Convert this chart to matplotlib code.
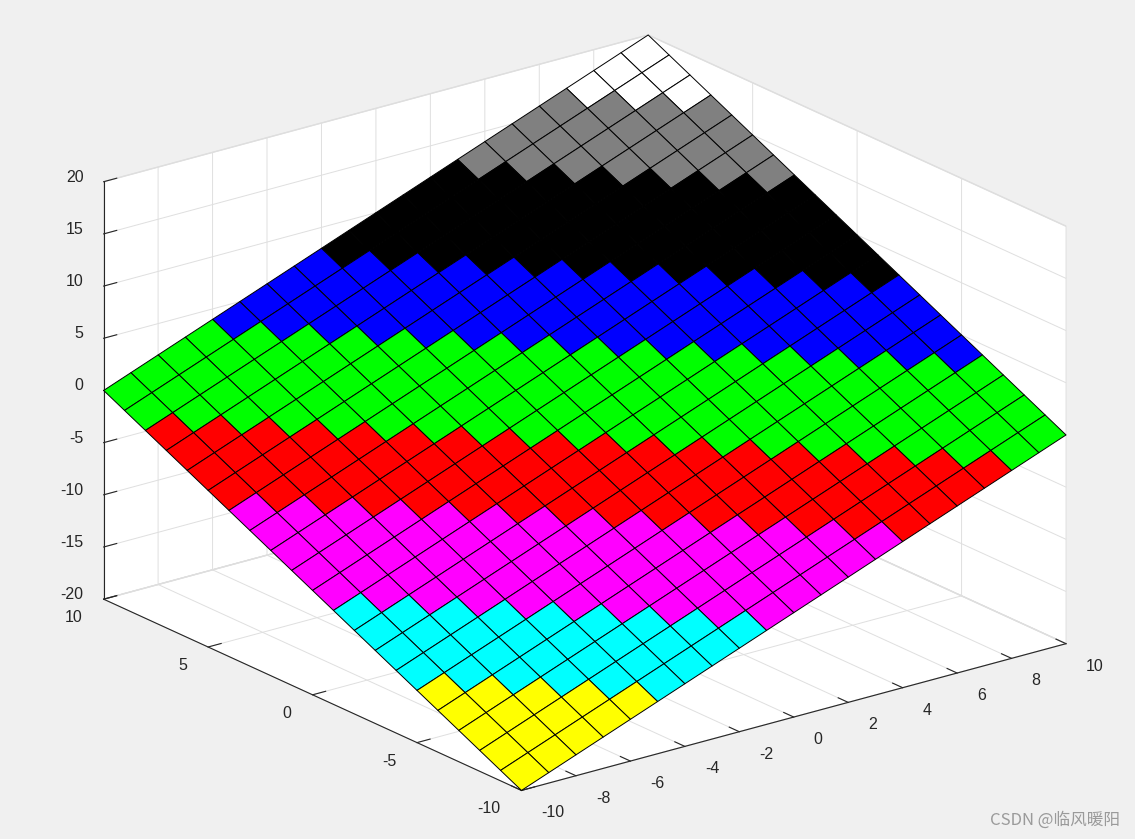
import numpy as np
import matplotlib
matplotlib.use('Agg')
import matplotlib.pyplot as plt
from matplotlib.colors import ListedColormap, Normalize
from matplotlib.ticker import NullFormatter
from mpl_toolkits.mplot3d import proj3d

plt.rcParams['axes.unicode_minus'] = False
plt.rcParams['font.family'] = ['Liberation Sans', 'DejaVu Sans']

# ---- data ----
x_values = [-10, -9, -8, -7, -6, -5, -4, -3, -2, -1, 0, 1, 2, 3, 4, 5, 6, 7, 8, 9, 10]
y_values = [-10, -9, -8, -7, -6, -5, -4, -3, -2, -1, 0, 1, 2, 3, 4, 5, 6, 7, 8, 9, 10]
band_colors = ['#FFFF00', '#00FFFF', '#FF00FF', '#FF0000', '#00FF00',
               '#0000FF', '#000000', '#808080', '#FFFFFF']
x_ticks = [-10, -8, -6, -4, -2, 0, 2, 4, 6, 8, 10]
y_ticks = [-10, -5, 0, 5, 10]
z_ticks = [-20, -15, -10, -5, 0, 5, 10, 15, 20]

X, Y = np.meshgrid(x_values, y_values)
Z = X + Y

cmap = ListedColormap(band_colors)
norm = Normalize(vmin=-20, vmax=20)
fc = cmap(norm(Z))

W, H = 1135, 839
fig = plt.figure(figsize=(W / 100, H / 100), dpi=100, facecolor='#F0F0F0')
ax = fig.add_axes([0, 0, 1, 1], projection='3d')
ax.apply_aspect = lambda position=None: None
ax.set_proj_type('ortho')
ax.view_init(elev=30, azim=-127.5)
ax.set_box_aspect((1, 1, 1))
ax.patch.set_facecolor('#F0F0F0')

surf = ax.plot_surface(X, Y, Z, facecolors=fc, rstride=1, cstride=1,
                       shade=False, linewidth=0.7, antialiased=True)
surf.set_edgecolor('k')

ax.set_xlim(-10, 10)
ax.set_ylim(-10, 10)
ax.set_zlim(-20, 20)
ax.set_xticks(x_ticks)
ax.set_yticks(y_ticks)
ax.set_zticks(z_ticks)

for axis in (ax.xaxis, ax.yaxis, ax.zaxis):
    axis.set_pane_color((1, 1, 1, 1))
    axis.pane.set_edgecolor('#DCDCDC')
    axis._axinfo['grid'].update(color='#DFDFDF', linewidth=0.7)
    axis._axinfo['tick']['inward_factor'] = 0.0
    axis._axinfo['tick']['outward_factor'] = 0.3
    axis._axinfo['axisline']['color'] = '#262626'
    axis._axinfo['axisline']['linewidth'] = 0.8
    axis.line.set_color('#262626')
    axis.line.set_linewidth(0.8)
    axis.set_major_formatter(NullFormatter())
    axis.set_tick_params(color='#262626')

# ---- fit projected box to the target pixel positions ----
fig.canvas.draw()
M = ax.get_proj()


def disp(px, py, pz):
    xs, ys, _ = proj3d.proj_transform(np.array([px]), np.array([py]), np.array([pz]), M)
    return ax.transData.transform((xs[0], ys[0]))


targets = [((-10, 10, -20), (105, 598)),
           ((-10, -10, -20), (523, 792)),
           ((10, -10, -20), (1070, 643)),
           ((-10, 10, 20), (105, 181)),
           ((10, 10, 20), (640, 36))]
us, vs, tx, ty = [], [], [], []
for (px, py, pz), (ix, iy) in targets:
    d = disp(px, py, pz)
    us.append(d[0] / W)
    vs.append(d[1] / H)
    tx.append(ix / W)
    ty.append((H - iy) / H)
A = np.vstack([np.ones(len(us)), us]).T
l, w = np.linalg.lstsq(A, np.array(tx), rcond=None)[0]
A = np.vstack([np.ones(len(vs)), vs]).T
b, h = np.linalg.lstsq(A, np.array(ty), rcond=None)[0]
ax.set_position([l, b, w, h])

# ---- tick labels (MATLAB-like placement) ----
lab_kw = dict(fontsize=11.5, color='#262626', family=['Liberation Sans', 'DejaVu Sans'])
for v in x_ticks:
    d = disp(v, -10, -20)
    fig.text((d[0] + 20) / W, (d[1] - 27) / H, str(v), ha='left', va='baseline', **lab_kw)
for v in y_ticks:
    d = disp(-10, v, -20)
    fig.text((d[0] - 21) / W, (d[1] - 23) / H, str(v), ha='right', va='baseline', **lab_kw)
for v in z_ticks:
    d = disp(-10, 10, v)
    fig.text((d[0] - 20) / W, (d[1] - 0) / H, str(v), ha='right', va='baseline', **lab_kw)

fig.text(0.987, 0.012, 'CSDN @临风暖阳', ha='right', va='bottom', color='#9A9A9A',
         fontsize=12, family=['Noto Sans CJK SC', 'DejaVu Sans'])

fig.savefig('out.png', dpi=100, facecolor=fig.get_facecolor())
